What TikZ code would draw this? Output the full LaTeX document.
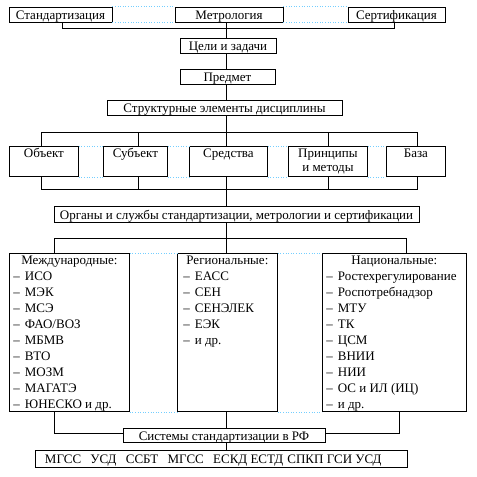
\documentclass[tikz,border=0pt]{standalone}
\usepackage{fontspec}
\setmainfont{Liberation Serif}
\tikzset{
  box/.style={draw, line width=0.8pt, inner sep=0pt, minimum height=15pt, text height=10pt, text depth=0pt},
  cell/.style={draw, line width=0.8pt, inner sep=0pt, anchor=north west},
  link/.style={line width=0.7pt},
  ghost/.style={draw=blue!35!cyan!55, dotted, line width=0.6pt},
}
\newcommand{\cellbox}[3]{\vbox to #2{\hsize=#1\relax\parindent=0pt\relax\leavevmode\rule{0pt}{11.5pt}#3\par\vfil}}
\newcommand{\itm}[1]{\makebox[11.5pt][l]{\textendash}#1\par}

\begin{document}
\begin{tikzpicture}[x=1pt,y=-1pt,font=\rmfamily\fontsize{13}{16}\selectfont]
\useasboundingbox (0,0) rectangle (477,477);
\coordinate (spine) at (226,0);

% top row
\node[box, minimum width=103pt] (stand) at (60.5,14.5) {Стандартизация};
\node[box, minimum width=108pt] (metr) at (229,14.5) {Метрология};
\node[box, minimum width=97pt] (sert) at (396.5,14.5) {Сертификация};
\node[box, minimum width=96pt] (celi) at (228,45.5) {Цели и задачи};
\node[box, minimum width=95pt] (pred) at (227.5,76.5) {Предмет};
\node[box, minimum width=235pt] (struct) at (224.5,107.5) {Структурные элементы дисциплины};

% elements
\node[cell] (obj) at (9,146) {\cellbox{69pt}{30pt}{\centering Объект}};
\node[cell] (subj) at (103,146) {\cellbox{64pt}{30pt}{\centering Субъект}};
\node[cell] (sred) at (189,146) {\cellbox{78pt}{30pt}{\centering Средства}};
\node[cell] (princ) at (288,146) {\cellbox{79pt}{30pt}{\centering\fontsize{13}{14}\selectfont Принципы\\и методы}};
\node[cell] (baza) at (386,146) {\cellbox{59pt}{30pt}{\centering База}};

\node[box, minimum width=365pt, minimum height=16pt] (organy) at (236.5,214) {Органы и службы стандартизации, метрологии и сертификации};

% bodies
\node[cell] (mezh) at (9,253) {\cellbox{120pt}{158pt}{\centering Международные:\par
  \raggedright\leftskip=4pt
  \itm{ИСО}\itm{МЭК}\itm{МСЭ}\itm{ФАО/ВОЗ}\itm{МБМВ}\itm{ВТО}\itm{МОЗМ}\itm{МАГАТЭ}\itm{ЮНЕСКО и др.}}};
\node[cell] (reg) at (177,253) {\cellbox{100pt}{158pt}{\centering Региональные:\par
  \raggedright\leftskip=6pt
  \itm{ЕАСС}\itm{СЕН}\itm{СЕНЭЛЕК}\itm{ЕЭК}\itm{и др.}}};
\node[cell] (nac) at (322,253) {\cellbox{144pt}{158pt}{\centering Национальные:\par
  \raggedright\leftskip=4pt
  \itm{Ростехрегулирование}\itm{Роспотребнадзор}\itm{МТУ}\itm{ТК}\itm{ЦСМ}\itm{ВНИИ}\itm{НИИ}\itm{ОС и ИЛ (ИЦ)}\itm{и др.}}};

\node[box, minimum width=202pt, minimum height=14pt] (sist) at (224,435) {Системы стандартизации в РФ};
\node[box, minimum width=372pt, minimum height=17pt] (gost) at (221,458.5)
  {\makebox[352pt][l]{МГСС\hspace{6pt} УСД\hspace{6pt} ССБТ\hspace{6pt} МГСС\hspace{6pt} ЕСКД ЕСТД\hspace{1pt} СПКП ГСИ УСД}};

% dotted frames between boxes
\foreach \a/\b in {stand/metr, metr/sert, obj/subj, subj/sred, sred/princ, princ/baza, mezh/reg, reg/nac}{
  \draw[ghost] (\a.north east) -- (\b.north west);
  \draw[ghost] (\a.south east) -- (\b.south west);
}

% connectors
\coordinate (b1) at (62,28);
\coordinate (b2) at (394,28);
\draw[link] (stand.south -| b1) -- (b1) -- (b2) -- (sert.south -| b2);
\draw[link] (metr.south -| spine) -- (celi.north -| spine);
\draw[link] (celi.south -| spine) -- (pred.north -| spine);
\draw[link] (pred.south -| spine) -- (struct.north -| spine);

\coordinate (t1) at (41,132);
\coordinate (t2) at (417,132);
\coordinate (ts) at (138,132);
\coordinate (tp) at (328,132);
\draw[link] (struct.south -| spine) -- (sred.north -| spine);
\draw[link] (obj.north -| t1) -- (t1) -- (t2) -- (baza.north -| t2);
\draw[link] (ts) -- (ts |- subj.north);
\draw[link] (tp) -- (tp |- princ.north);

\coordinate (u1) at (41,189);
\coordinate (u2) at (417,189);
\coordinate (us) at (138,189);
\coordinate (up) at (328,189);
\draw[link] (obj.south -| u1) -- (u1) -- (u2) -- (baza.south -| u2);
\draw[link] (us) -- (us |- subj.south);
\draw[link] (up) -- (up |- princ.south);
\draw[link] (sred.south -| spine) -- (organy.north -| spine);

\coordinate (o1) at (54,238);
\coordinate (o2) at (406,238);
\draw[link] (organy.south -| spine) -- (reg.north -| spine);
\draw[link] (mezh.north -| o1) -- (o1) -- (o2) -- (nac.north -| o2);

\coordinate (s1) at (54,433);
\coordinate (s2) at (399,433);
\draw[link] (mezh.south -| s1) -- (s1) -- (sist.west |- s1);
\draw[link] (nac.south -| s2) -- (s2) -- (sist.east |- s2);
\draw[link] (reg.south -| spine) -- (sist.north -| spine);
\draw[link] (sist.south -| spine) -- (gost.north -| spine);
\end{tikzpicture}
\end{document}
